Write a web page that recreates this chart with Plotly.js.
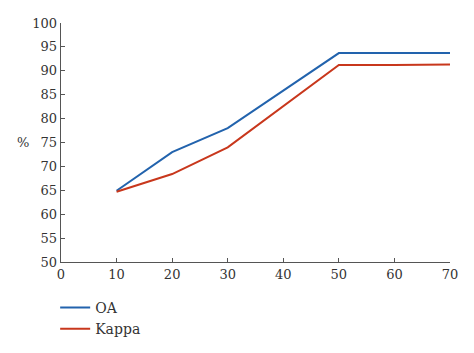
<!DOCTYPE html>
<html>
<head>
<meta charset="utf-8">
<script src="https://cdn.plot.ly/plotly-3.0.1.min.js"></script>
<style>html,body{margin:0;padding:0;background:#fff;}#chart{width:474px;height:353px;}</style>
</head>
<body>
<div id="chart"></div>
<script>
var xValues = [10, 20, 30, 40, 50, 60, 70];
var oaValues = [64.9, 73.0, 78.0, 85.9, 93.7, 93.7, 93.7];
var kappaValues = [64.7, 68.4, 74.0, 82.6, 91.2, 91.2, 91.3];
var seriesNames = ['OA', 'Kappa'];
var xTicks = [0, 10, 20, 30, 40, 50, 60, 70];
var yTicks = [50, 55, 60, 65, 70, 75, 80, 85, 90, 95, 100];

var fontFam = 'DejaVu Serif';
var traces = [
  {x: xValues, y: oaValues, name: seriesNames[0], mode: 'lines', line: {color: '#2263ad', width: 2}},
  {x: xValues, y: kappaValues, name: seriesNames[1], mode: 'lines', line: {color: '#c8371c', width: 2}}
];
var layout = {
  width: 474, height: 353,
  margin: {l: 61, r: 24, t: 23, b: 91, autoexpand: false},
  paper_bgcolor: '#fff', plot_bgcolor: '#fff',
  font: {family: fontFam, size: 13, color: '#333'},
  showlegend: true,
  legend: {x: -0.015, xanchor: 'left', y: -0.125, yanchor: 'top', orientation: 'v',
           font: {family: fontFam, size: 14, color: '#333'}, tracegroupgap: 0},
  xaxis: {range: [0, 70], tickvals: xTicks, ticktext: xTicks.map(String), showgrid: false, zeroline: false,
          showline: true, linecolor: '#555', linewidth: 1.3, ticks: 'inside', ticklen: 4, tickcolor: '#555',
          tickfont: {family: fontFam, size: 13, color: '#333'}, fixedrange: true},
  yaxis: {range: [50, 100], tickvals: yTicks, ticktext: yTicks.map(String), showgrid: false, zeroline: false,
          showline: true, linecolor: '#555', linewidth: 1.3, ticks: 'inside', ticklen: 4, tickcolor: '#555',
          tickfont: {family: fontFam, size: 13, color: '#333'}, fixedrange: true},
  annotations: [{text: '%', xref: 'paper', yref: 'paper', x: -0.097, y: 0.5, xanchor: 'center', yanchor: 'middle',
                 showarrow: false, font: {family: fontFam, size: 13, color: '#333'}}]
};
Plotly.newPlot('chart', traces, layout, {displayModeBar: false, staticPlot: true});
</script>
</body>
</html>
